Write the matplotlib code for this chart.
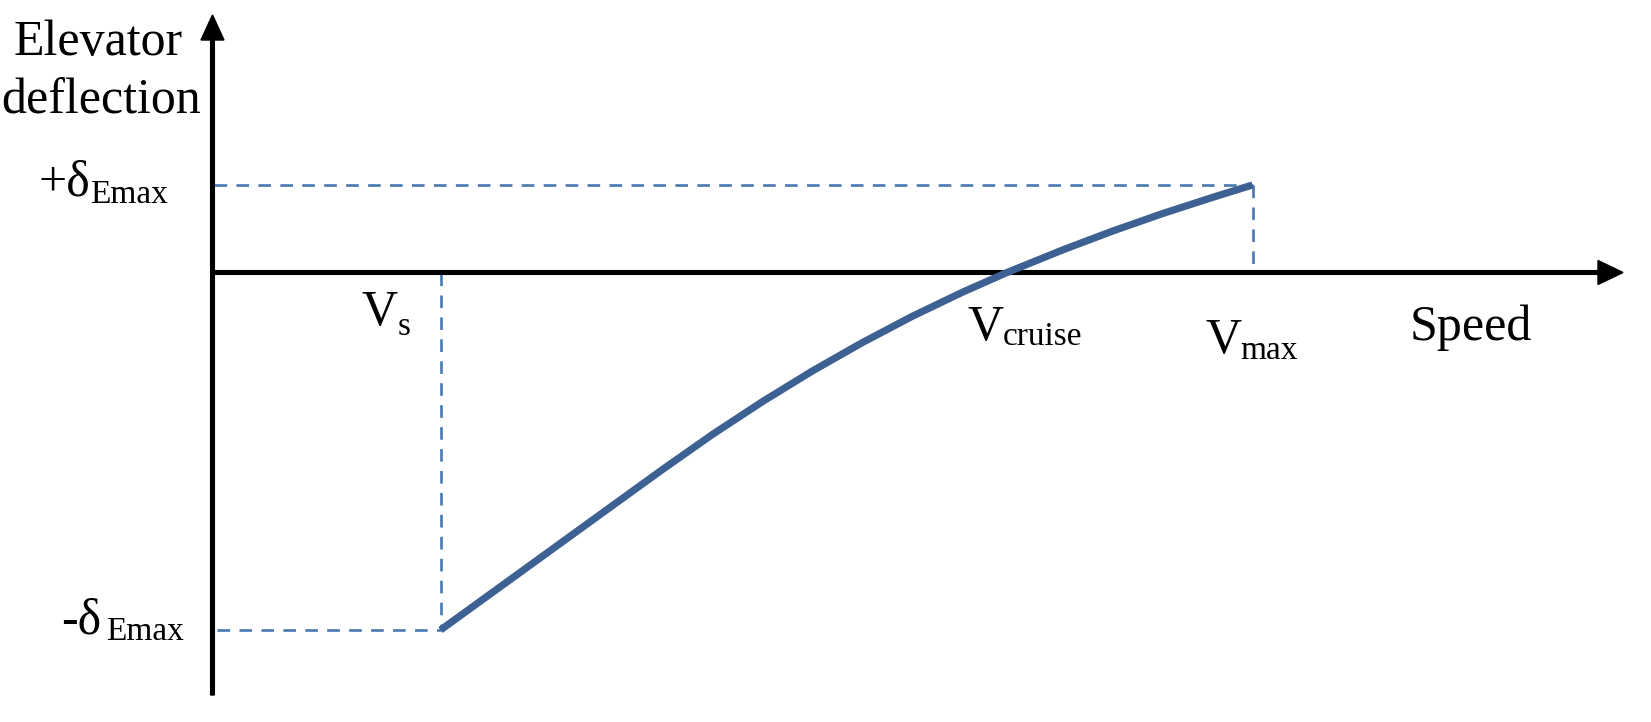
import matplotlib
matplotlib.use("Agg")
import matplotlib.pyplot as plt

# ---------------- data (arbitrary schematic units) ----------------
speed = [22.8, 28.0, 34.0, 40.0, 45.0, 50.0, 55.0, 60.0, 65.0, 70.0, 75.0, 79.45,
         85.0, 90.0, 95.0, 100.0, 104.0]
deflection = [-35.75, -31.99, -27.65, -23.31, -19.70, -16.19, -12.91, -9.84, -7.00,
              -4.37, -1.97, 0.0, 2.25, 4.14, 5.89, 7.51, 8.75]

V_s = 22.8
V_cruise = 79.45
V_max = 104.0
delta_pos = 8.75
delta_neg = -35.75

axis_x_end = 141.05
axis_y_top = 25.75
axis_y_bottom = -42.25

# ---------------- style ----------------
plt.rcParams['lines.scale_dashes'] = False
FONT = ['Liberation Serif', 'DejaVu Serif']
MAIN = 36
SUB = 24
CURVE_C = '#3D6192'
DASH_C = '#4A78B0'

fig = plt.figure(figsize=(16.51, 7.22), dpi=100)
ax = fig.add_axes([0, 0, 1, 1])
ax.set_xlim(-21.25, 143.85)
ax.set_ylim(-44.95, 27.25)
ax.axis('off')

# axes arrows
ax.arrow(0, axis_y_bottom, 0, axis_y_top - axis_y_bottom, width=0.37, head_width=2.3,
         head_length=2.5, length_includes_head=True, color='black', zorder=3)
ax.arrow(0, 0, axis_x_end, 0, width=0.37, head_width=2.4,
         head_length=2.5, length_includes_head=True, color='black', zorder=3)

# dashed guide lines
dash = dict(color=DASH_C, lw=1.9, dashes=(9.1, 6.7), zorder=2)
ax.plot([0.1, V_max], [delta_pos, delta_pos], **dash)
ax.plot([V_max, V_max], [delta_pos, 0], **dash)
ax.plot([0.4, V_s], [delta_neg, delta_neg], **dash)
ax.plot([V_s, V_s], [0, delta_neg], **dash)

# curve
ax.plot(speed, deflection, color=CURVE_C, lw=5.2, solid_capstyle='butt',
        solid_joinstyle='round', zorder=4)

# texts
def t(x, y, s, size, ha='left'):
    ax.text(x, y, s, fontsize=size, family=FONT, ha=ha, va='baseline', color='black')

t(-11.45, 21.75, 'Elevator', MAIN, ha='center')
t(-11.1, 15.95, 'deflection', MAIN, ha='center')

t(-12.25, delta_pos - 1.0, '+δ', MAIN, ha='right')
t(-12.25, delta_pos - 1.8, 'Emax', SUB)
t(-11.1, delta_neg - 0.35, '-δ', MAIN, ha='right')
t(-10.6, delta_neg - 1.0, 'Emax', SUB)

t(V_s - 7.95, -5.25, 'V', MAIN)
t(V_s - 4.25, -6.25, 's', SUB)
t(V_cruise - 4.0, -6.75, 'V', MAIN)
t(V_cruise - 0.4, -7.25, 'cruise', SUB)
t(V_max - 4.75, -8.05, 'V', MAIN)
t(V_max - 1.25, -8.65, 'max', SUB)
t(119.75, -6.75, 'Speed', MAIN)

fig.savefig('out.png', dpi=100, facecolor='white')
